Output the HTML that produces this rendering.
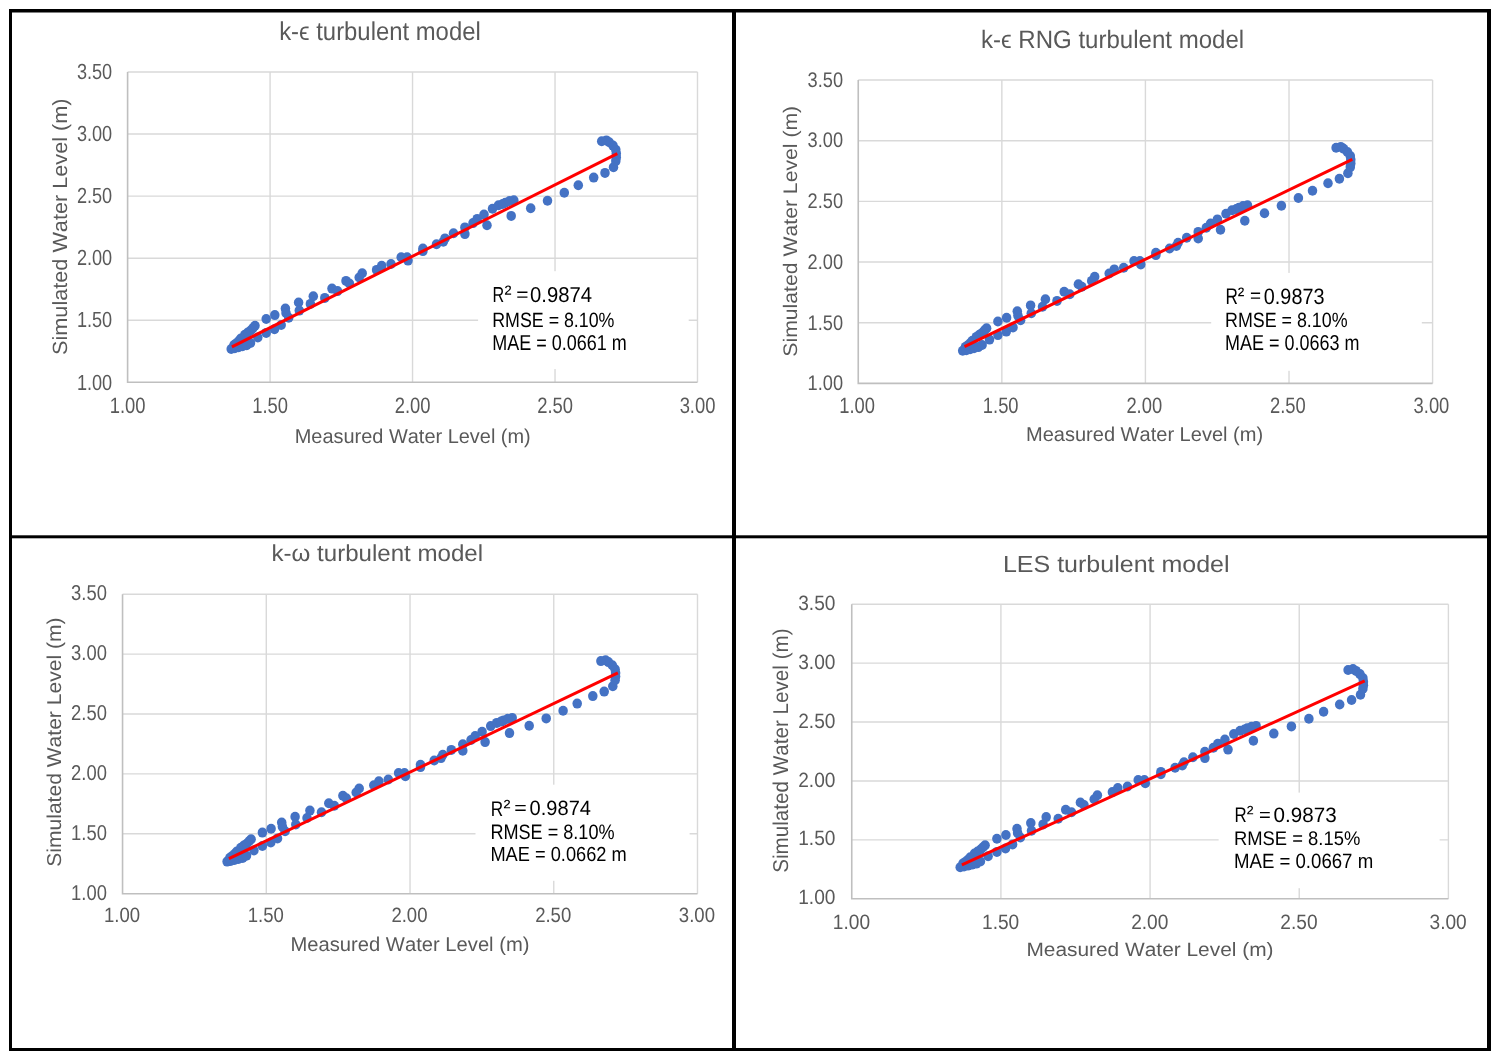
<!DOCTYPE html>
<html><head><meta charset="utf-8"><title>Turbulence model comparison</title>
<style>
html,body{margin:0;padding:0;background:#fff;}
body{width:1500px;height:1060px;overflow:hidden;}
svg{display:block;}
text{font-family:'Liberation Sans', sans-serif;font-kerning:none;text-rendering:geometricPrecision;}
</style></head><body>
<svg width="1500" height="1060" viewBox="0 0 1500 1060">
<rect width="1500" height="1060" fill="#fff"/>
<g stroke="#d9d9d9" stroke-width="1.4"><line x1="127.60" y1="72.00" x2="697.50" y2="72.00"/><line x1="127.60" y1="134.06" x2="697.50" y2="134.06"/><line x1="127.60" y1="196.12" x2="697.50" y2="196.12"/><line x1="127.60" y1="258.18" x2="697.50" y2="258.18"/><line x1="127.60" y1="320.24" x2="697.50" y2="320.24"/><line x1="270.07" y1="72.00" x2="270.07" y2="382.30"/><line x1="412.55" y1="72.00" x2="412.55" y2="382.30"/><line x1="555.02" y1="72.00" x2="555.02" y2="382.30"/><line x1="697.50" y1="72.00" x2="697.50" y2="382.30"/></g>
<path d="M127.60,72.00V382.30H697.50" fill="none" stroke="#bfbfbf" stroke-width="1.6"/>
<rect x="478.1" y="271.2" width="210.60" height="97.90" fill="#fff"/>
<g fill="#4472c4"><ellipse cx="231.2" cy="349.0" rx="4.75" ry="5"/><ellipse cx="234.8" cy="348.3" rx="4.75" ry="5"/><ellipse cx="238.6" cy="347.3" rx="4.75" ry="5"/><ellipse cx="242.5" cy="346.3" rx="4.75" ry="5"/><ellipse cx="246.7" cy="345.2" rx="4.75" ry="5"/><ellipse cx="250.5" cy="343.0" rx="4.75" ry="5"/><ellipse cx="257.8" cy="337.5" rx="4.75" ry="5"/><ellipse cx="266.2" cy="332.9" rx="4.75" ry="5"/><ellipse cx="274.5" cy="329.3" rx="4.75" ry="5"/><ellipse cx="281.2" cy="325.0" rx="4.75" ry="5"/><ellipse cx="288.7" cy="317.7" rx="4.75" ry="5"/><ellipse cx="234.0" cy="345.0" rx="4.75" ry="5"/><ellipse cx="236.0" cy="343.5" rx="4.75" ry="5"/><ellipse cx="238.6" cy="341.2" rx="4.75" ry="5"/><ellipse cx="240.8" cy="338.6" rx="4.75" ry="5"/><ellipse cx="244.8" cy="334.7" rx="4.75" ry="5"/><ellipse cx="247.8" cy="332.5" rx="4.75" ry="5"/><ellipse cx="250.7" cy="330.5" rx="4.75" ry="5"/><ellipse cx="253.0" cy="328.0" rx="4.75" ry="5"/><ellipse cx="255.0" cy="325.8" rx="4.75" ry="5"/><ellipse cx="266.2" cy="319.0" rx="4.75" ry="5"/><ellipse cx="274.8" cy="315.1" rx="4.75" ry="5"/><ellipse cx="285.4" cy="308.5" rx="4.75" ry="5"/><ellipse cx="286.0" cy="313.0" rx="4.75" ry="5"/><ellipse cx="298.6" cy="302.5" rx="4.75" ry="5"/><ellipse cx="299.3" cy="310.6" rx="4.75" ry="5"/><ellipse cx="313.3" cy="296.2" rx="4.75" ry="5"/><ellipse cx="310.4" cy="303.9" rx="4.75" ry="5"/><ellipse cx="324.8" cy="297.9" rx="4.75" ry="5"/><ellipse cx="332.0" cy="288.6" rx="4.75" ry="5"/><ellipse cx="337.5" cy="291.1" rx="4.75" ry="5"/><ellipse cx="346.0" cy="280.9" rx="4.75" ry="5"/><ellipse cx="349.4" cy="283.5" rx="4.75" ry="5"/><ellipse cx="362.2" cy="273.3" rx="4.75" ry="5"/><ellipse cx="359.2" cy="277.5" rx="4.75" ry="5"/><ellipse cx="376.6" cy="269.9" rx="4.75" ry="5"/><ellipse cx="381.7" cy="265.7" rx="4.75" ry="5"/><ellipse cx="391.0" cy="264.0" rx="4.75" ry="5"/><ellipse cx="401.2" cy="257.2" rx="4.75" ry="5"/><ellipse cx="407.1" cy="257.2" rx="4.75" ry="5"/><ellipse cx="408.0" cy="260.6" rx="4.75" ry="5"/><ellipse cx="422.9" cy="248.6" rx="4.75" ry="5"/><ellipse cx="422.9" cy="251.1" rx="4.75" ry="5"/><ellipse cx="436.5" cy="244.3" rx="4.75" ry="5"/><ellipse cx="443.3" cy="241.8" rx="4.75" ry="5"/><ellipse cx="445.0" cy="238.4" rx="4.75" ry="5"/><ellipse cx="453.5" cy="233.3" rx="4.75" ry="5"/><ellipse cx="464.9" cy="227.4" rx="4.75" ry="5"/><ellipse cx="464.9" cy="234.1" rx="4.75" ry="5"/><ellipse cx="473.0" cy="223.1" rx="4.75" ry="5"/><ellipse cx="477.2" cy="218.9" rx="4.75" ry="5"/><ellipse cx="484.0" cy="214.6" rx="4.75" ry="5"/><ellipse cx="487.0" cy="225.2" rx="4.75" ry="5"/><ellipse cx="492.5" cy="208.7" rx="4.75" ry="5"/><ellipse cx="498.5" cy="205.3" rx="4.75" ry="5"/><ellipse cx="505.3" cy="202.7" rx="4.75" ry="5"/><ellipse cx="513.8" cy="200.2" rx="4.75" ry="5"/><ellipse cx="511.2" cy="215.9" rx="4.75" ry="5"/><ellipse cx="502.7" cy="204.0" rx="4.75" ry="5"/><ellipse cx="509.5" cy="201.0" rx="4.75" ry="5"/><ellipse cx="530.7" cy="208.3" rx="4.75" ry="5"/><ellipse cx="547.5" cy="200.7" rx="4.75" ry="5"/><ellipse cx="564.3" cy="192.7" rx="4.75" ry="5"/><ellipse cx="578.3" cy="185.3" rx="4.75" ry="5"/><ellipse cx="593.7" cy="177.6" rx="4.75" ry="5"/><ellipse cx="605.0" cy="172.9" rx="4.75" ry="5"/><ellipse cx="613.5" cy="167.3" rx="4.75" ry="5"/><ellipse cx="615.8" cy="161.1" rx="4.75" ry="5"/><ellipse cx="616.3" cy="157.4" rx="4.75" ry="5"/><ellipse cx="616.3" cy="153.6" rx="4.75" ry="5"/><ellipse cx="615.8" cy="149.8" rx="4.75" ry="5"/><ellipse cx="613.0" cy="145.6" rx="4.75" ry="5"/><ellipse cx="609.2" cy="142.3" rx="4.75" ry="5"/><ellipse cx="606.4" cy="140.4" rx="4.75" ry="5"/><ellipse cx="601.7" cy="141.3" rx="4.75" ry="5"/></g>
<line x1="231.90" y1="346.80" x2="617.30" y2="153.60" stroke="#ff0000" stroke-width="3.0"/>
<text transform="translate(279.19,39.60) scale(0.9250,1)" font-size="25.81" fill="#595959">k-ϵ turbulent model</text>
<text transform="translate(76.89,79.24) scale(0.8290,1)" font-size="21.89" fill="#595959">3.50</text>
<text transform="translate(76.89,141.30) scale(0.8290,1)" font-size="21.89" fill="#595959">3.00</text>
<text transform="translate(76.89,203.36) scale(0.8290,1)" font-size="21.89" fill="#595959">2.50</text>
<text transform="translate(76.89,265.42) scale(0.8290,1)" font-size="21.89" fill="#595959">2.00</text>
<text transform="translate(76.89,327.48) scale(0.8290,1)" font-size="21.89" fill="#595959">1.50</text>
<text transform="translate(76.89,389.54) scale(0.8290,1)" font-size="21.89" fill="#595959">1.00</text>
<text transform="translate(109.73,412.58) scale(0.8253,1)" font-size="22.32" fill="#595959">1.00</text>
<text transform="translate(252.20,412.58) scale(0.8253,1)" font-size="22.32" fill="#595959">1.50</text>
<text transform="translate(394.68,412.58) scale(0.8253,1)" font-size="22.32" fill="#595959">2.00</text>
<text transform="translate(537.15,412.58) scale(0.8253,1)" font-size="22.32" fill="#595959">2.50</text>
<text transform="translate(679.63,412.58) scale(0.8253,1)" font-size="22.32" fill="#595959">3.00</text>
<text transform="translate(294.76,442.60) scale(0.9898,1)" font-size="20.15" fill="#595959">Measured Water Level (m)</text>
<text transform="translate(67.00,354.98) rotate(-90) scale(1.0548,1)" font-size="20.56" fill="#595959">Simulated Water Level (m)</text>
<text transform="translate(492.47,301.80) scale(0.7416,1)" font-size="21.80" fill="#000">R</text>
<text transform="translate(504.38,300.97) scale(0.9401,1)" font-size="22.44" fill="#000">²</text>
<text transform="translate(516.17,301.03) scale(1.0913,1)" font-size="19.24" fill="#000">=</text>
<text transform="translate(530.01,301.80) scale(0.9449,1)" font-size="21.48" fill="#000">0.9874</text>
<text transform="translate(492.24,326.90) scale(0.8639,1)" font-size="20.62" fill="#000">RMSE = 8.10%</text>
<text transform="translate(492.22,349.50) scale(0.8323,1)" font-size="21.63" fill="#000">MAE = 0.0661 m</text>
<g stroke="#d9d9d9" stroke-width="1.4"><line x1="858.25" y1="80.00" x2="1432.60" y2="80.00"/><line x1="858.25" y1="140.68" x2="1432.60" y2="140.68"/><line x1="858.25" y1="201.36" x2="1432.60" y2="201.36"/><line x1="858.25" y1="262.04" x2="1432.60" y2="262.04"/><line x1="858.25" y1="322.72" x2="1432.60" y2="322.72"/><line x1="1001.84" y1="80.00" x2="1001.84" y2="383.40"/><line x1="1145.42" y1="80.00" x2="1145.42" y2="383.40"/><line x1="1289.01" y1="80.00" x2="1289.01" y2="383.40"/><line x1="1432.60" y1="80.00" x2="1432.60" y2="383.40"/></g>
<path d="M858.25,80.00V383.40H1432.60" fill="none" stroke="#bfbfbf" stroke-width="1.6"/>
<rect x="1211.2" y="272.9" width="210.60" height="97.90" fill="#fff"/>
<g fill="#4472c4"><ellipse cx="962.7" cy="350.8" rx="4.75" ry="5"/><ellipse cx="966.3" cy="350.2" rx="4.75" ry="5"/><ellipse cx="970.1" cy="349.2" rx="4.75" ry="5"/><ellipse cx="974.0" cy="348.2" rx="4.75" ry="5"/><ellipse cx="978.3" cy="347.1" rx="4.75" ry="5"/><ellipse cx="982.1" cy="345.0" rx="4.75" ry="5"/><ellipse cx="989.5" cy="339.6" rx="4.75" ry="5"/><ellipse cx="997.9" cy="335.1" rx="4.75" ry="5"/><ellipse cx="1006.3" cy="331.6" rx="4.75" ry="5"/><ellipse cx="1013.0" cy="327.4" rx="4.75" ry="5"/><ellipse cx="1020.6" cy="320.2" rx="4.75" ry="5"/><ellipse cx="965.5" cy="346.9" rx="4.75" ry="5"/><ellipse cx="967.5" cy="345.5" rx="4.75" ry="5"/><ellipse cx="970.1" cy="343.2" rx="4.75" ry="5"/><ellipse cx="972.3" cy="340.7" rx="4.75" ry="5"/><ellipse cx="976.4" cy="336.9" rx="4.75" ry="5"/><ellipse cx="979.4" cy="334.7" rx="4.75" ry="5"/><ellipse cx="982.3" cy="332.8" rx="4.75" ry="5"/><ellipse cx="984.6" cy="330.3" rx="4.75" ry="5"/><ellipse cx="986.6" cy="328.2" rx="4.75" ry="5"/><ellipse cx="997.9" cy="321.5" rx="4.75" ry="5"/><ellipse cx="1006.6" cy="317.7" rx="4.75" ry="5"/><ellipse cx="1017.3" cy="311.2" rx="4.75" ry="5"/><ellipse cx="1017.9" cy="315.6" rx="4.75" ry="5"/><ellipse cx="1030.6" cy="305.4" rx="4.75" ry="5"/><ellipse cx="1031.3" cy="313.3" rx="4.75" ry="5"/><ellipse cx="1045.4" cy="299.2" rx="4.75" ry="5"/><ellipse cx="1042.5" cy="306.7" rx="4.75" ry="5"/><ellipse cx="1057.0" cy="300.9" rx="4.75" ry="5"/><ellipse cx="1064.2" cy="291.8" rx="4.75" ry="5"/><ellipse cx="1069.8" cy="294.2" rx="4.75" ry="5"/><ellipse cx="1078.4" cy="284.3" rx="4.75" ry="5"/><ellipse cx="1081.8" cy="286.8" rx="4.75" ry="5"/><ellipse cx="1094.7" cy="276.8" rx="4.75" ry="5"/><ellipse cx="1091.7" cy="280.9" rx="4.75" ry="5"/><ellipse cx="1109.2" cy="273.5" rx="4.75" ry="5"/><ellipse cx="1114.3" cy="269.4" rx="4.75" ry="5"/><ellipse cx="1123.7" cy="267.7" rx="4.75" ry="5"/><ellipse cx="1134.0" cy="261.1" rx="4.75" ry="5"/><ellipse cx="1139.9" cy="261.1" rx="4.75" ry="5"/><ellipse cx="1140.8" cy="264.4" rx="4.75" ry="5"/><ellipse cx="1155.9" cy="252.7" rx="4.75" ry="5"/><ellipse cx="1155.9" cy="255.1" rx="4.75" ry="5"/><ellipse cx="1169.6" cy="248.5" rx="4.75" ry="5"/><ellipse cx="1176.4" cy="246.0" rx="4.75" ry="5"/><ellipse cx="1178.1" cy="242.7" rx="4.75" ry="5"/><ellipse cx="1186.7" cy="237.7" rx="4.75" ry="5"/><ellipse cx="1198.2" cy="231.9" rx="4.75" ry="5"/><ellipse cx="1198.2" cy="238.5" rx="4.75" ry="5"/><ellipse cx="1206.3" cy="227.7" rx="4.75" ry="5"/><ellipse cx="1210.6" cy="223.6" rx="4.75" ry="5"/><ellipse cx="1217.4" cy="219.4" rx="4.75" ry="5"/><ellipse cx="1220.5" cy="229.8" rx="4.75" ry="5"/><ellipse cx="1226.0" cy="213.7" rx="4.75" ry="5"/><ellipse cx="1232.0" cy="210.3" rx="4.75" ry="5"/><ellipse cx="1238.9" cy="207.8" rx="4.75" ry="5"/><ellipse cx="1247.5" cy="205.3" rx="4.75" ry="5"/><ellipse cx="1244.8" cy="220.7" rx="4.75" ry="5"/><ellipse cx="1236.3" cy="209.1" rx="4.75" ry="5"/><ellipse cx="1243.1" cy="206.1" rx="4.75" ry="5"/><ellipse cx="1264.5" cy="213.3" rx="4.75" ry="5"/><ellipse cx="1281.4" cy="205.8" rx="4.75" ry="5"/><ellipse cx="1298.4" cy="198.0" rx="4.75" ry="5"/><ellipse cx="1312.5" cy="190.8" rx="4.75" ry="5"/><ellipse cx="1328.0" cy="183.3" rx="4.75" ry="5"/><ellipse cx="1339.4" cy="178.7" rx="4.75" ry="5"/><ellipse cx="1347.9" cy="173.2" rx="4.75" ry="5"/><ellipse cx="1350.3" cy="167.1" rx="4.75" ry="5"/><ellipse cx="1350.8" cy="163.5" rx="4.75" ry="5"/><ellipse cx="1350.8" cy="159.8" rx="4.75" ry="5"/><ellipse cx="1350.3" cy="156.1" rx="4.75" ry="5"/><ellipse cx="1347.4" cy="152.0" rx="4.75" ry="5"/><ellipse cx="1343.6" cy="148.7" rx="4.75" ry="5"/><ellipse cx="1340.8" cy="146.9" rx="4.75" ry="5"/><ellipse cx="1336.1" cy="147.8" rx="4.75" ry="5"/></g>
<line x1="964.50" y1="346.60" x2="1352.30" y2="159.40" stroke="#ff0000" stroke-width="3.0"/>
<text transform="translate(980.98,47.60) scale(0.9522,1)" font-size="25.25" fill="#595959">k-ϵ RNG turbulent model</text>
<text transform="translate(807.58,86.79) scale(0.8591,1)" font-size="21.19" fill="#595959">3.50</text>
<text transform="translate(807.58,147.47) scale(0.8591,1)" font-size="21.19" fill="#595959">3.00</text>
<text transform="translate(807.58,208.15) scale(0.8591,1)" font-size="21.19" fill="#595959">2.50</text>
<text transform="translate(807.58,268.83) scale(0.8591,1)" font-size="21.19" fill="#595959">2.00</text>
<text transform="translate(807.58,329.51) scale(0.8591,1)" font-size="21.19" fill="#595959">1.50</text>
<text transform="translate(807.58,390.19) scale(0.8591,1)" font-size="21.19" fill="#595959">1.00</text>
<text transform="translate(839.23,412.58) scale(0.8229,1)" font-size="22.32" fill="#595959">1.00</text>
<text transform="translate(982.82,412.58) scale(0.8229,1)" font-size="22.32" fill="#595959">1.50</text>
<text transform="translate(1126.40,412.58) scale(0.8229,1)" font-size="22.32" fill="#595959">2.00</text>
<text transform="translate(1269.99,412.58) scale(0.8229,1)" font-size="22.32" fill="#595959">2.50</text>
<text transform="translate(1413.58,412.58) scale(0.8229,1)" font-size="22.32" fill="#595959">3.00</text>
<text transform="translate(1025.96,440.70) scale(1.0018,1)" font-size="20.01" fill="#595959">Measured Water Level (m)</text>
<text transform="translate(797.20,356.66) rotate(-90) scale(1.0815,1)" font-size="19.60" fill="#595959">Simulated Water Level (m)</text>
<text transform="translate(1225.39,303.60) scale(0.7576,1)" font-size="22.67" fill="#000">R</text>
<text transform="translate(1237.80,301.57) scale(0.9394,1)" font-size="21.01" fill="#000">²</text>
<text transform="translate(1249.88,301.83) scale(0.9843,1)" font-size="19.24" fill="#000">=</text>
<text transform="translate(1263.83,303.50) scale(0.8932,1)" font-size="22.20" fill="#000">0.9873</text>
<text transform="translate(1225.03,326.90) scale(0.8661,1)" font-size="20.62" fill="#000">RMSE = 8.10%</text>
<text transform="translate(1225.02,349.90) scale(0.8372,1)" font-size="21.48" fill="#000">MAE = 0.0663 m</text>
<g stroke="#d9d9d9" stroke-width="1.4"><line x1="122.55" y1="594.20" x2="697.50" y2="594.20"/><line x1="122.55" y1="654.10" x2="697.50" y2="654.10"/><line x1="122.55" y1="714.00" x2="697.50" y2="714.00"/><line x1="122.55" y1="773.90" x2="697.50" y2="773.90"/><line x1="122.55" y1="833.80" x2="697.50" y2="833.80"/><line x1="266.29" y1="594.20" x2="266.29" y2="893.70"/><line x1="410.03" y1="594.20" x2="410.03" y2="893.70"/><line x1="553.76" y1="594.20" x2="553.76" y2="893.70"/><line x1="697.50" y1="594.20" x2="697.50" y2="893.70"/></g>
<path d="M122.55,594.20V893.70H697.50" fill="none" stroke="#bfbfbf" stroke-width="1.6"/>
<rect x="475.5" y="784.7" width="214.10" height="96.10" fill="#fff"/>
<g fill="#4472c4"><ellipse cx="227.1" cy="861.6" rx="4.75" ry="5"/><ellipse cx="230.7" cy="860.9" rx="4.75" ry="5"/><ellipse cx="234.5" cy="859.9" rx="4.75" ry="5"/><ellipse cx="238.5" cy="859.0" rx="4.75" ry="5"/><ellipse cx="242.7" cy="857.9" rx="4.75" ry="5"/><ellipse cx="246.5" cy="855.8" rx="4.75" ry="5"/><ellipse cx="253.9" cy="850.5" rx="4.75" ry="5"/><ellipse cx="262.4" cy="846.0" rx="4.75" ry="5"/><ellipse cx="270.8" cy="842.5" rx="4.75" ry="5"/><ellipse cx="277.5" cy="838.4" rx="4.75" ry="5"/><ellipse cx="285.1" cy="831.3" rx="4.75" ry="5"/><ellipse cx="229.9" cy="857.7" rx="4.75" ry="5"/><ellipse cx="231.9" cy="856.3" rx="4.75" ry="5"/><ellipse cx="234.5" cy="854.0" rx="4.75" ry="5"/><ellipse cx="236.8" cy="851.5" rx="4.75" ry="5"/><ellipse cx="240.8" cy="847.8" rx="4.75" ry="5"/><ellipse cx="243.8" cy="845.6" rx="4.75" ry="5"/><ellipse cx="246.7" cy="843.7" rx="4.75" ry="5"/><ellipse cx="249.1" cy="841.3" rx="4.75" ry="5"/><ellipse cx="251.1" cy="839.2" rx="4.75" ry="5"/><ellipse cx="262.4" cy="832.6" rx="4.75" ry="5"/><ellipse cx="271.1" cy="828.8" rx="4.75" ry="5"/><ellipse cx="281.7" cy="822.5" rx="4.75" ry="5"/><ellipse cx="282.4" cy="826.8" rx="4.75" ry="5"/><ellipse cx="295.1" cy="816.7" rx="4.75" ry="5"/><ellipse cx="295.8" cy="824.5" rx="4.75" ry="5"/><ellipse cx="309.9" cy="810.6" rx="4.75" ry="5"/><ellipse cx="307.0" cy="818.0" rx="4.75" ry="5"/><ellipse cx="321.5" cy="812.2" rx="4.75" ry="5"/><ellipse cx="328.8" cy="803.3" rx="4.75" ry="5"/><ellipse cx="334.3" cy="805.7" rx="4.75" ry="5"/><ellipse cx="342.9" cy="795.8" rx="4.75" ry="5"/><ellipse cx="346.3" cy="798.3" rx="4.75" ry="5"/><ellipse cx="359.2" cy="788.5" rx="4.75" ry="5"/><ellipse cx="356.2" cy="792.5" rx="4.75" ry="5"/><ellipse cx="373.8" cy="785.2" rx="4.75" ry="5"/><ellipse cx="378.9" cy="781.2" rx="4.75" ry="5"/><ellipse cx="388.3" cy="779.5" rx="4.75" ry="5"/><ellipse cx="398.6" cy="773.0" rx="4.75" ry="5"/><ellipse cx="404.5" cy="773.0" rx="4.75" ry="5"/><ellipse cx="405.4" cy="776.2" rx="4.75" ry="5"/><ellipse cx="420.5" cy="764.7" rx="4.75" ry="5"/><ellipse cx="420.5" cy="767.1" rx="4.75" ry="5"/><ellipse cx="434.2" cy="760.5" rx="4.75" ry="5"/><ellipse cx="441.0" cy="758.1" rx="4.75" ry="5"/><ellipse cx="442.8" cy="754.8" rx="4.75" ry="5"/><ellipse cx="451.3" cy="749.9" rx="4.75" ry="5"/><ellipse cx="462.8" cy="744.2" rx="4.75" ry="5"/><ellipse cx="462.8" cy="750.7" rx="4.75" ry="5"/><ellipse cx="471.0" cy="740.0" rx="4.75" ry="5"/><ellipse cx="475.2" cy="736.0" rx="4.75" ry="5"/><ellipse cx="482.1" cy="731.8" rx="4.75" ry="5"/><ellipse cx="485.1" cy="742.1" rx="4.75" ry="5"/><ellipse cx="490.7" cy="726.1" rx="4.75" ry="5"/><ellipse cx="496.7" cy="722.9" rx="4.75" ry="5"/><ellipse cx="503.6" cy="720.4" rx="4.75" ry="5"/><ellipse cx="512.2" cy="717.9" rx="4.75" ry="5"/><ellipse cx="509.5" cy="733.1" rx="4.75" ry="5"/><ellipse cx="501.0" cy="721.6" rx="4.75" ry="5"/><ellipse cx="507.8" cy="718.7" rx="4.75" ry="5"/><ellipse cx="529.2" cy="725.8" rx="4.75" ry="5"/><ellipse cx="546.2" cy="718.4" rx="4.75" ry="5"/><ellipse cx="563.1" cy="710.7" rx="4.75" ry="5"/><ellipse cx="577.2" cy="703.6" rx="4.75" ry="5"/><ellipse cx="592.8" cy="696.1" rx="4.75" ry="5"/><ellipse cx="604.2" cy="691.6" rx="4.75" ry="5"/><ellipse cx="612.8" cy="686.2" rx="4.75" ry="5"/><ellipse cx="615.1" cy="680.2" rx="4.75" ry="5"/><ellipse cx="615.6" cy="676.6" rx="4.75" ry="5"/><ellipse cx="615.6" cy="673.0" rx="4.75" ry="5"/><ellipse cx="615.1" cy="669.3" rx="4.75" ry="5"/><ellipse cx="612.3" cy="665.2" rx="4.75" ry="5"/><ellipse cx="608.4" cy="662.1" rx="4.75" ry="5"/><ellipse cx="605.6" cy="660.2" rx="4.75" ry="5"/><ellipse cx="600.9" cy="661.1" rx="4.75" ry="5"/></g>
<line x1="228.90" y1="858.70" x2="617.90" y2="672.80" stroke="#ff0000" stroke-width="3.0"/>
<text transform="translate(271.48,561.40) scale(1.0396,1)" font-size="23.18" fill="#595959">k-ω turbulent model</text>
<text transform="translate(71.07,600.29) scale(0.8579,1)" font-size="21.47" fill="#595959">3.50</text>
<text transform="translate(71.07,660.19) scale(0.8579,1)" font-size="21.47" fill="#595959">3.00</text>
<text transform="translate(71.07,720.09) scale(0.8579,1)" font-size="21.47" fill="#595959">2.50</text>
<text transform="translate(71.07,779.99) scale(0.8579,1)" font-size="21.47" fill="#595959">2.00</text>
<text transform="translate(71.07,839.89) scale(0.8579,1)" font-size="21.47" fill="#595959">1.50</text>
<text transform="translate(71.07,899.79) scale(0.8579,1)" font-size="21.47" fill="#595959">1.00</text>
<text transform="translate(103.92,922.00) scale(0.8948,1)" font-size="20.76" fill="#595959">1.00</text>
<text transform="translate(247.66,922.00) scale(0.8948,1)" font-size="20.76" fill="#595959">1.50</text>
<text transform="translate(391.39,922.00) scale(0.8948,1)" font-size="20.76" fill="#595959">2.00</text>
<text transform="translate(535.13,922.00) scale(0.8948,1)" font-size="20.76" fill="#595959">2.50</text>
<text transform="translate(678.87,922.00) scale(0.8948,1)" font-size="20.76" fill="#595959">3.00</text>
<text transform="translate(290.44,950.70) scale(1.0169,1)" font-size="19.87" fill="#595959">Measured Water Level (m)</text>
<text transform="translate(61.10,866.76) rotate(-90) scale(1.0528,1)" font-size="20.01" fill="#595959">Simulated Water Level (m)</text>
<text transform="translate(490.79,815.60) scale(0.8095,1)" font-size="21.22" fill="#000">R</text>
<text transform="translate(503.38,813.64) scale(1.0275,1)" font-size="20.53" fill="#000">²</text>
<text transform="translate(514.35,814.33) scale(1.1497,1)" font-size="18.62" fill="#000">=</text>
<text transform="translate(529.62,815.40) scale(0.9729,1)" font-size="20.62" fill="#000">0.9874</text>
<text transform="translate(490.42,839.30) scale(0.8648,1)" font-size="20.91" fill="#000">RMSE = 8.10%</text>
<text transform="translate(490.40,861.30) scale(0.8971,1)" font-size="20.34" fill="#000">MAE = 0.0662 m</text>
<g stroke="#d9d9d9" stroke-width="1.4"><line x1="851.75" y1="604.20" x2="1448.40" y2="604.20"/><line x1="851.75" y1="663.12" x2="1448.40" y2="663.12"/><line x1="851.75" y1="722.04" x2="1448.40" y2="722.04"/><line x1="851.75" y1="780.96" x2="1448.40" y2="780.96"/><line x1="851.75" y1="839.88" x2="1448.40" y2="839.88"/><line x1="1000.91" y1="604.20" x2="1000.91" y2="898.80"/><line x1="1150.08" y1="604.20" x2="1150.08" y2="898.80"/><line x1="1299.24" y1="604.20" x2="1299.24" y2="898.80"/><line x1="1448.40" y1="604.20" x2="1448.40" y2="898.80"/></g>
<path d="M851.75,604.20V898.80H1448.40" fill="none" stroke="#bfbfbf" stroke-width="1.6"/>
<rect x="1218.6" y="792.6" width="221.00" height="95.60" fill="#fff"/>
<g fill="#4472c4"><ellipse cx="960.2" cy="867.2" rx="4.75" ry="5"/><ellipse cx="964.0" cy="866.5" rx="4.75" ry="5"/><ellipse cx="968.0" cy="865.6" rx="4.75" ry="5"/><ellipse cx="972.0" cy="864.6" rx="4.75" ry="5"/><ellipse cx="976.4" cy="863.6" rx="4.75" ry="5"/><ellipse cx="980.4" cy="861.5" rx="4.75" ry="5"/><ellipse cx="988.1" cy="856.3" rx="4.75" ry="5"/><ellipse cx="996.9" cy="851.9" rx="4.75" ry="5"/><ellipse cx="1005.5" cy="848.5" rx="4.75" ry="5"/><ellipse cx="1012.6" cy="844.4" rx="4.75" ry="5"/><ellipse cx="1020.4" cy="837.5" rx="4.75" ry="5"/><ellipse cx="963.1" cy="863.4" rx="4.75" ry="5"/><ellipse cx="965.2" cy="862.0" rx="4.75" ry="5"/><ellipse cx="968.0" cy="859.8" rx="4.75" ry="5"/><ellipse cx="970.3" cy="857.3" rx="4.75" ry="5"/><ellipse cx="974.5" cy="853.6" rx="4.75" ry="5"/><ellipse cx="977.6" cy="851.5" rx="4.75" ry="5"/><ellipse cx="980.6" cy="849.6" rx="4.75" ry="5"/><ellipse cx="983.0" cy="847.2" rx="4.75" ry="5"/><ellipse cx="985.1" cy="845.2" rx="4.75" ry="5"/><ellipse cx="996.9" cy="838.7" rx="4.75" ry="5"/><ellipse cx="1005.9" cy="835.0" rx="4.75" ry="5"/><ellipse cx="1017.0" cy="828.7" rx="4.75" ry="5"/><ellipse cx="1017.6" cy="833.0" rx="4.75" ry="5"/><ellipse cx="1030.8" cy="823.0" rx="4.75" ry="5"/><ellipse cx="1031.5" cy="830.7" rx="4.75" ry="5"/><ellipse cx="1046.2" cy="817.1" rx="4.75" ry="5"/><ellipse cx="1043.1" cy="824.4" rx="4.75" ry="5"/><ellipse cx="1058.2" cy="818.7" rx="4.75" ry="5"/><ellipse cx="1065.7" cy="809.8" rx="4.75" ry="5"/><ellipse cx="1071.5" cy="812.2" rx="4.75" ry="5"/><ellipse cx="1080.4" cy="802.5" rx="4.75" ry="5"/><ellipse cx="1084.0" cy="805.0" rx="4.75" ry="5"/><ellipse cx="1097.4" cy="795.3" rx="4.75" ry="5"/><ellipse cx="1094.2" cy="799.3" rx="4.75" ry="5"/><ellipse cx="1112.4" cy="792.1" rx="4.75" ry="5"/><ellipse cx="1117.8" cy="788.1" rx="4.75" ry="5"/><ellipse cx="1127.5" cy="786.5" rx="4.75" ry="5"/><ellipse cx="1138.2" cy="780.0" rx="4.75" ry="5"/><ellipse cx="1144.4" cy="780.0" rx="4.75" ry="5"/><ellipse cx="1145.3" cy="783.3" rx="4.75" ry="5"/><ellipse cx="1160.9" cy="771.9" rx="4.75" ry="5"/><ellipse cx="1160.9" cy="774.2" rx="4.75" ry="5"/><ellipse cx="1175.1" cy="767.8" rx="4.75" ry="5"/><ellipse cx="1182.3" cy="765.4" rx="4.75" ry="5"/><ellipse cx="1184.0" cy="762.2" rx="4.75" ry="5"/><ellipse cx="1192.9" cy="757.3" rx="4.75" ry="5"/><ellipse cx="1204.9" cy="751.7" rx="4.75" ry="5"/><ellipse cx="1204.9" cy="758.1" rx="4.75" ry="5"/><ellipse cx="1213.4" cy="747.7" rx="4.75" ry="5"/><ellipse cx="1217.8" cy="743.7" rx="4.75" ry="5"/><ellipse cx="1224.9" cy="739.6" rx="4.75" ry="5"/><ellipse cx="1228.0" cy="749.6" rx="4.75" ry="5"/><ellipse cx="1233.8" cy="734.0" rx="4.75" ry="5"/><ellipse cx="1240.1" cy="730.8" rx="4.75" ry="5"/><ellipse cx="1247.2" cy="728.3" rx="4.75" ry="5"/><ellipse cx="1256.1" cy="725.9" rx="4.75" ry="5"/><ellipse cx="1253.4" cy="740.8" rx="4.75" ry="5"/><ellipse cx="1244.5" cy="729.5" rx="4.75" ry="5"/><ellipse cx="1251.6" cy="726.7" rx="4.75" ry="5"/><ellipse cx="1273.8" cy="733.6" rx="4.75" ry="5"/><ellipse cx="1291.4" cy="726.4" rx="4.75" ry="5"/><ellipse cx="1308.9" cy="718.8" rx="4.75" ry="5"/><ellipse cx="1323.6" cy="711.8" rx="4.75" ry="5"/><ellipse cx="1339.7" cy="704.5" rx="4.75" ry="5"/><ellipse cx="1351.6" cy="700.0" rx="4.75" ry="5"/><ellipse cx="1360.5" cy="694.7" rx="4.75" ry="5"/><ellipse cx="1362.9" cy="688.8" rx="4.75" ry="5"/><ellipse cx="1363.4" cy="685.3" rx="4.75" ry="5"/><ellipse cx="1363.4" cy="681.7" rx="4.75" ry="5"/><ellipse cx="1362.9" cy="678.1" rx="4.75" ry="5"/><ellipse cx="1359.9" cy="674.1" rx="4.75" ry="5"/><ellipse cx="1356.0" cy="670.9" rx="4.75" ry="5"/><ellipse cx="1353.0" cy="669.1" rx="4.75" ry="5"/><ellipse cx="1348.1" cy="670.0" rx="4.75" ry="5"/></g>
<line x1="961.90" y1="864.80" x2="1364.70" y2="680.80" stroke="#ff0000" stroke-width="3.0"/>
<text transform="translate(1002.95,572.20) scale(1.0729,1)" font-size="23.32" fill="#595959">LES turbulent model</text>
<text transform="translate(798.24,609.80) scale(0.9271,1)" font-size="20.62" fill="#595959">3.50</text>
<text transform="translate(798.24,668.72) scale(0.9271,1)" font-size="20.62" fill="#595959">3.00</text>
<text transform="translate(798.24,727.64) scale(0.9271,1)" font-size="20.62" fill="#595959">2.50</text>
<text transform="translate(798.24,786.56) scale(0.9271,1)" font-size="20.62" fill="#595959">2.00</text>
<text transform="translate(798.24,845.48) scale(0.9271,1)" font-size="20.62" fill="#595959">1.50</text>
<text transform="translate(798.24,904.40) scale(0.9271,1)" font-size="20.62" fill="#595959">1.00</text>
<text transform="translate(832.85,928.60) scale(0.9146,1)" font-size="20.90" fill="#595959">1.00</text>
<text transform="translate(982.01,928.60) scale(0.9146,1)" font-size="20.90" fill="#595959">1.50</text>
<text transform="translate(1131.17,928.60) scale(0.9146,1)" font-size="20.90" fill="#595959">2.00</text>
<text transform="translate(1280.33,928.60) scale(0.9146,1)" font-size="20.90" fill="#595959">2.50</text>
<text transform="translate(1429.50,928.60) scale(0.9146,1)" font-size="20.90" fill="#595959">3.00</text>
<text transform="translate(1026.39,956.10) scale(1.0809,1)" font-size="19.32" fill="#595959">Measured Water Level (m)</text>
<text transform="translate(788.10,872.74) rotate(-90) scale(0.9657,1)" font-size="21.39" fill="#595959">Simulated Water Level (m)</text>
<text transform="translate(1234.42,821.80) scale(0.7936,1)" font-size="21.22" fill="#000">R</text>
<text transform="translate(1246.79,820.24) scale(0.9944,1)" font-size="20.53" fill="#000">²</text>
<text transform="translate(1259.02,820.93) scale(1.0834,1)" font-size="18.62" fill="#000">=</text>
<text transform="translate(1273.60,821.70) scale(0.9920,1)" font-size="20.77" fill="#000">0.9873</text>
<text transform="translate(1233.99,845.10) scale(0.9315,1)" font-size="19.76" fill="#000">RMSE = 8.15%</text>
<text transform="translate(1233.97,867.50) scale(0.9032,1)" font-size="20.62" fill="#000">MAE = 0.0667 m</text>
<g fill="#000"><rect x="9" y="9" width="3" height="1042"/><rect x="9" y="9" width="1482" height="3.5"/><rect x="1487" y="9" width="4" height="1042"/><rect x="9" y="1048" width="1482" height="3"/><rect x="732" y="9" width="4" height="1042"/><rect x="9" y="535.3" width="1482" height="3"/></g>
</svg>
</body></html>
